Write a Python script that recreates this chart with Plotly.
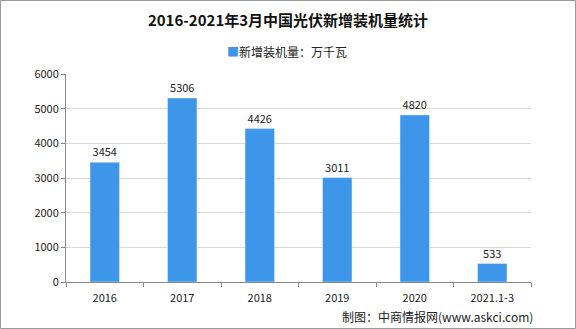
import plotly.graph_objects as go

categories = ["2016", "2017", "2018", "2019", "2020", "2021.1-3"]
values = [3454, 5306, 4426, 3011, 4820, 533]
y_ticks = [0, 1000, 2000, 3000, 4000, 5000, 6000]
series_name = "新增装机量：万千瓦"
bar_color = "#3D96EA"

W, H = 576, 329
L, R, T, B = 66, 45, 74, 47
pw, ph = W - L - R, H - T - B

font_cjk = "Noto Sans CJK SC, DejaVu Sans, sans-serif"

fig = go.Figure()
fig.add_trace(go.Bar(
    x=categories, y=values, name=series_name,
    marker_color=bar_color, text=[str(v) for v in values],
    textposition="outside", textfont=dict(size=11, color="#222"),
    cliponaxis=False,
))

fig.update_layout(
    width=W, height=H,
    margin=dict(l=L, r=R, t=T, b=B),
    paper_bgcolor="white", plot_bgcolor="white",
    font=dict(family=font_cjk, size=11, color="#222"),
    bargap=0.62,
    title=dict(text="<b>2016-2021年3月中国光伏新增装机量统计</b>",
               x=0.5, xanchor="center", y=1 - 21 / H, yanchor="middle",
               font=dict(size=15, color="#111")),
    showlegend=False,
    xaxis=dict(showline=True, linecolor="#888", ticks="outside",
               tickson="boundaries", tickcolor="#888", ticklen=4,
               ticklabelstandoff=6,
               showgrid=False, tickfont=dict(size=11)),
    yaxis=dict(range=[0, 6000], tickvals=y_ticks, showline=True,
               linecolor="#888", ticks="outside", tickcolor="#888", ticklen=4,
               gridcolor="#d9d9d9", zeroline=False, tickfont=dict(size=11)),
    shapes=[dict(type="rect", xref="paper", yref="paper",
                 x0=-L / pw + 0.5 / pw, x1=1 + (R - 0.5) / pw,
                 y0=-B / ph + 0.5 / ph, y1=1 + (T - 0.5) / ph,
                 line=dict(color="#999", width=1))],
    annotations=[
        dict(text=f"<span style='color:{bar_color}'>■</span>{series_name}",
             xref="paper", yref="paper",
             x=(287 - L) / pw, xanchor="center", y=1 + (T - 52) / ph,
             yanchor="middle", showarrow=False,
             font=dict(size=12, color="#222")),
        dict(text="制图：中商情报网(www.askci.com)", xref="paper", yref="paper",
             x=1 + 4 / pw, xanchor="right", y=-(316 - (T + ph)) / ph,
             yanchor="middle", showarrow=False,
             font=dict(size=12, color="#222")),
    ],
)

fig.write_html("out.html")
